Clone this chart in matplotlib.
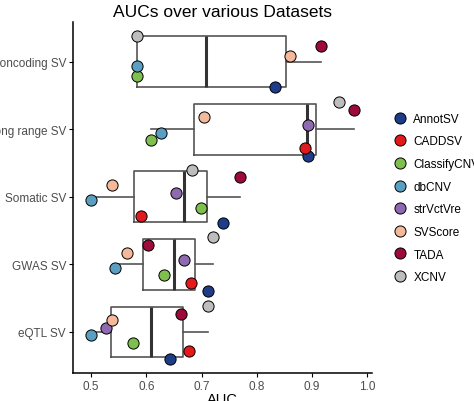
import numpy as np
import matplotlib.pyplot as plt
from matplotlib.lines import Line2D

plt.rcParams["font.family"] = ["Liberation Sans", "DejaVu Sans"]

# ── Data ──────────────────────────────────────────────────────────────────────
DATASETS = ["eQTL SV", "GWAS SV", "Somatic SV", "Long range SV", "Noncoding SV"]
TOOLS = ["AnnotSV", "CADDSV", "ClassifyCNV", "dbCNV", "strVctVre", "SVScore", "TADA", "XCNV"]
COLORS = ["#1f3c88", "#e31a1c", "#7fbf4d", "#5b9fc0", "#8e6bb0", "#f4b89a", "#9e0b3a", "#bdbdbd"]

# AUC per dataset, tool order as TOOLS (None = not available)
auc_eqtl      = [0.642, 0.678, 0.576, 0.500, 0.527, 0.538, 0.663, 0.712]
auc_gwas      = [0.712, 0.681, 0.632, 0.543, 0.668, 0.565, 0.603, 0.721]
auc_somatic   = [0.739, 0.591, 0.699, 0.500, 0.654, 0.538, 0.770, 0.683]
auc_longrange = [0.893, 0.888, 0.609, 0.627, 0.893, 0.705, 0.976, 0.949]
auc_noncoding = [0.833, None,  0.583, 0.583, None,  0.860, 0.917, 0.583]

# vertical jitter offset per dataset (in category units)
jit_eqtl      = [-0.40, -0.29, -0.17, -0.05, 0.05, 0.17, 0.27, 0.39]
jit_gwas      = [-0.39, -0.27, -0.16, -0.05, 0.07, 0.17, 0.29, 0.41]
jit_somatic   = [-0.39, -0.29, -0.17, -0.05, 0.05, 0.17, 0.29, 0.39]
jit_longrange = [-0.39, -0.28, -0.16, -0.06, 0.06, 0.18, 0.28, 0.40]
jit_noncoding = [-0.38, 0.0, -0.21, -0.07, 0.0, 0.08, 0.23, 0.38]

all_auc = [auc_eqtl, auc_gwas, auc_somatic, auc_longrange, auc_noncoding]
all_jit = [jit_eqtl, jit_gwas, jit_somatic, jit_longrange, jit_noncoding]

# ── Plot ──────────────────────────────────────────────────────────────────────
fig = plt.figure(figsize=(4.74, 4.02), dpi=100)
ax = fig.add_axes([0.154, 0.07, 0.631, 0.873])

box_data = [[v for v in vals if v is not None] for vals in all_auc]
ax.boxplot(box_data, positions=range(len(DATASETS)), vert=False, widths=0.75,
           whis=1.5, showfliers=False,
           boxprops=dict(color="#555555", lw=1.2),
           whiskerprops=dict(color="#555555", lw=1.2),
           capprops=dict(visible=False),
           medianprops=dict(color="#333333", lw=2.2))

for i, (vals, jit) in enumerate(zip(all_auc, all_jit)):
    for v, j, c in zip(vals, jit, COLORS):
        if v is None:
            continue
        ax.scatter(v, i + j, s=65, color=c, edgecolor="black", lw=0.7, zorder=3)

ax.set_xlim(0.467, 1.009)
ax.set_ylim(-0.607, 4.59)
ax.set_yticks(range(len(DATASETS)))
ax.set_yticklabels(DATASETS, fontsize=8.5, color="#4d4d4d")
ax.set_xticks([0.5, 0.6, 0.7, 0.8, 0.9, 1.0])
ax.set_xticklabels(["0.5", "0.6", "0.7", "0.8", "0.9", "1.0"], fontsize=8.5, color="#4d4d4d")
ax.tick_params(length=3, pad=2)
ax.set_xlabel("AUC", fontsize=10.5, labelpad=0)
ax.set_title("AUCs over various Datasets", fontsize=12.5, pad=4)
for s in ["top", "right"]:
    ax.spines[s].set_visible(False)
for s in ["left", "bottom"]:
    ax.spines[s].set_linewidth(1.1)

handles = [Line2D([], [], marker="o", ls="", markersize=8, markerfacecolor=c,
                  markeredgecolor="black", markeredgewidth=0.7) for c in COLORS]
fig.legend(handles, TOOLS, loc="center left", bbox_to_anchor=(0.81, 0.505),
           frameon=False, fontsize=8.5, handletextpad=0.6, labelspacing=0.9,
           handlelength=1.0)

fig.savefig("out.png", dpi=100)
